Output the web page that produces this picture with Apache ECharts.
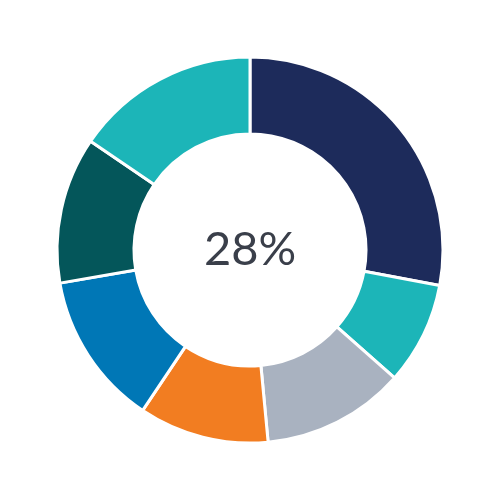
<!DOCTYPE html>
<html>
<head>
<meta charset="utf-8">
<script src="https://cdn.jsdelivr.net/npm/echarts@6/dist/echarts.min.js"></script>
<style>
    html, body { margin: 0; padding: 0; background: #fff; }
    #chart { width: 500px; height: 500px; }
</style>
</head>
<body>
<div id="chart"></div>
<script>
// slice data, clockwise from 12 o'clock
var sliceNames = ['A', 'B', 'C', 'D', 'E', 'F', 'G'];
var sliceValues = [28, 8.6, 12, 10.9, 12.9, 12.3, 15.5];
var sliceColors = ['#1d2b5b', '#1cb5b8', '#a9b2c0', '#f27d21', '#0077b6', '#04565a', '#1cb5b8'];
var centerLabel = '28%';

var chartsObj = echarts.init(document.getElementById('chart'));

var seriesData = [];
for (var i = 0; i < sliceValues.length; i++) {
    seriesData.push({
        name: sliceNames[i],
        value: sliceValues[i],
        itemStyle: { color: sliceColors[i] }
    });
}

var option = {
    animation: false,
    title: {
        text: centerLabel,
        left: 'center',
        top: 'middle',
        textStyle: {
            fontFamily: 'Lato',
            fontSize: 47,
            fontWeight: 'normal',
            color: '#3a3f4a'
        }
    },
    series: [{
        type: 'pie',
        center: ['50%', '50%'],
        radius: ['46.4%', '77.2%'],
        startAngle: 90,
        clockwise: true,
        label: { show: false },
        labelLine: { show: false },
        itemStyle: {
            borderColor: '#ffffff',
            borderWidth: 3
        },
        data: seriesData
    }]
};

chartsObj.setOption(option);
</script>
</body>
</html>
